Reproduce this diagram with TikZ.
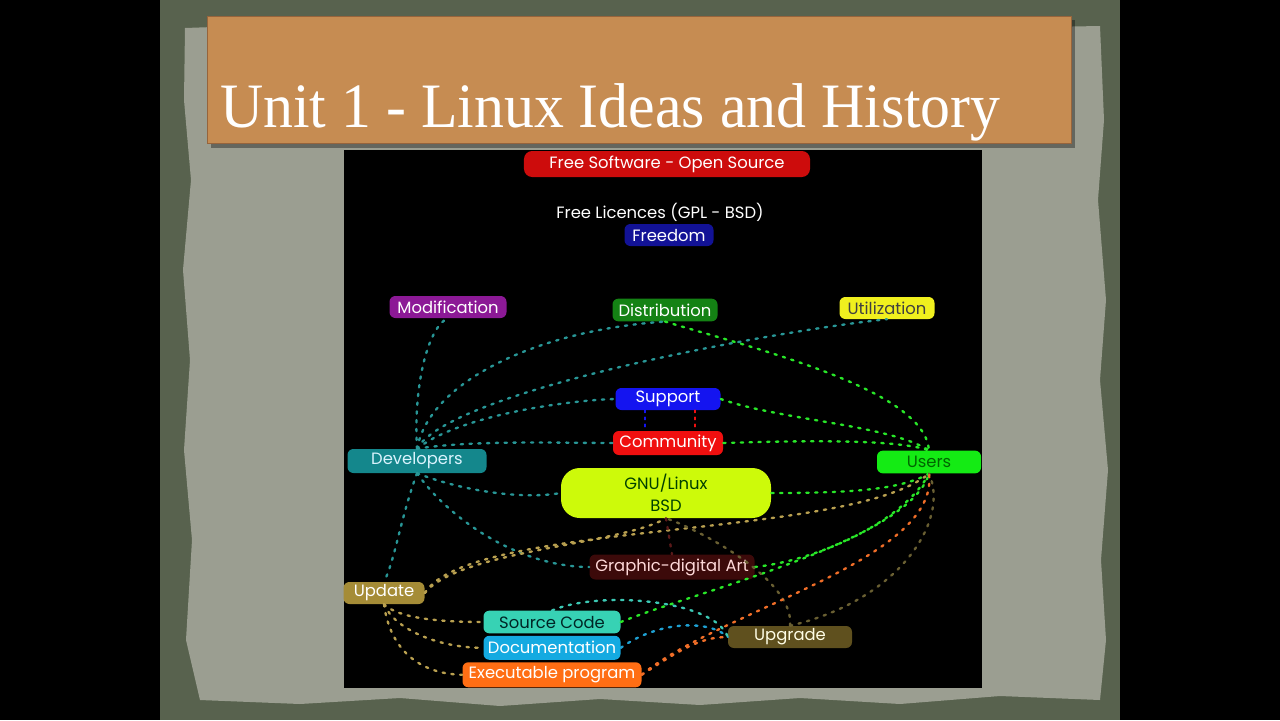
\documentclass[tikz,border=0pt]{standalone}
\usepackage{fontspec}
\setmainfont{Liberation Serif}
\newfontfamily\diafont{Poppins}
\usepackage{tikz}
\usetikzlibrary{positioning}

% slide colours
\definecolor{framegreen}{RGB}{88,98,78}
\definecolor{papergrey}{RGB}{155,158,145}
\definecolor{bannertan}{RGB}{198,140,82}
\definecolor{bannerline}{RGB}{150,100,60}
% box colours
\definecolor{cfsos}{RGB}{205,12,12}
\definecolor{cfreedom}{RGB}{18,18,150}
\definecolor{cmodif}{RGB}{140,25,150}
\definecolor{cdistr}{RGB}{20,130,20}
\definecolor{cutil}{RGB}{240,240,30}
\definecolor{csupp}{RGB}{20,20,240}
\definecolor{ccomm}{RGB}{240,15,15}
\definecolor{cdevs}{RGB}{20,135,140}
\definecolor{cusers}{RGB}{20,235,20}
\definecolor{cgnu}{RGB}{205,250,10}
\definecolor{cart}{RGB}{60,10,10}
\definecolor{cupd}{RGB}{165,140,55}
\definecolor{csrc}{RGB}{55,210,180}
\definecolor{cdoc}{RGB}{20,170,225}
\definecolor{cexe}{RGB}{255,110,20}
\definecolor{cupg}{RGB}{95,80,30}
% link colours
\definecolor{lteal}{RGB}{40,150,150}
\definecolor{lgreen}{RGB}{40,230,40}
\definecolor{ltan}{RGB}{185,160,80}
\definecolor{lolive}{RGB}{105,95,50}
\definecolor{lorange}{RGB}{240,110,40}
\definecolor{lsky}{RGB}{30,160,210}
\definecolor{lturq}{RGB}{60,200,180}
\definecolor{lmaroon}{RGB}{90,25,25}

\begin{document}
\begin{tikzpicture}[
    x=0.03cm, y=-0.03cm,
    pill/.style={rounded corners=5pt, inner sep=0pt, minimum height=0.68cm, align=center, text=white, font=\diafont\fontsize{14}{19}\selectfont},
    link/.style={line width=2pt, dash pattern=on 2pt off 5.5pt, line cap=round},
    thinlink/.style={line width=1.4pt, dash pattern=on 2pt off 4pt, line cap=round}
]
\useasboundingbox (0,0) rectangle (1280,720);

% Background
\fill[black] (0,0) rectangle (1280,720);
\fill[framegreen] (160,0) rectangle (1120,720);
\fill[papergrey] (185,28) -- (300,24) -- (420,30) -- (560,25) -- (700,29) -- (850,24) -- (990,28) -- (1100,26)
  -- (1104,120) -- (1098,200) -- (1106,300) -- (1100,380) -- (1108,470) -- (1101,560) -- (1106,640) -- (1100,700)
  -- (1000,696) -- (900,704) -- (800,698) -- (700,705) -- (600,699) -- (500,706) -- (400,698) -- (300,704) -- (200,700)
  -- (186,640) -- (192,540) -- (184,450) -- (190,360) -- (183,270) -- (191,180) -- (184,100) -- cycle;

% Banner
\fill[black, opacity=0.35] (211,20) rectangle (1075,148);
\filldraw[fill=bannertan, draw=bannerline] (207,16) rectangle (1071,143);
\node[anchor=base west, text=white, font=\fontsize{54}{54}\selectfont, inner sep=0pt] (title) at (220,127) {\scalebox{0.945}[1]{Unit 1 - Linux Ideas and History}};

% Diagram panel
\fill[black] (344,150) rectangle (982,688);

% Nodes
\node[pill, fill=cfsos, minimum width=8.58cm, minimum height=0.78cm, rounded corners=7pt] (fsos) at (667,164) {Free Software - Open Source};
\node[text=white, font=\diafont\fontsize{14}{19}\selectfont] (lic) at (660,212) {Free Licences (GPL - BSD)};
\node[pill, fill=cfreedom, minimum width=2.67cm, minimum height=0.66cm] (freedom) at (669,235) {Freedom};

\node[pill, fill=cmodif, minimum width=3.51cm, minimum height=0.66cm] (modif) at (448,307) {Modification};
\node[pill, fill=cdistr, minimum width=3.15cm] (distr) at (665,310) {Distribution};
\node[pill, fill=cutil, text=black!75, minimum width=2.85cm, minimum height=0.66cm] (util) at (887,308) {Utilization};

\node[pill, fill=csupp, minimum width=3.15cm, minimum height=0.66cm] (supp) at (668,399) {Support};
\node[pill, fill=ccomm, minimum width=3.3cm, minimum height=0.72cm] (comm) at (668,443) {Community};

\node[pill, fill=cdevs, text=white!85!cyan, minimum width=4.17cm, minimum height=0.72cm] (devs) at (417,461) {Developers};
\node[pill, fill=cusers, text=green!40!black, minimum width=3.12cm] (users) at (929,462) {Users};

\node[pill, fill=cgnu, text=black!75!green, minimum width=6.3cm, minimum height=1.5cm, rounded corners=16pt] (gnu) at (666,493) {GNU/Linux\\BSD};
\node[pill, fill=cart, text=red!15!white, minimum width=4.95cm, minimum height=0.75cm] (art) at (672,567) {Graphic-digital Art};

\node[pill, fill=cupd, minimum width=2.43cm, minimum height=0.66cm] (upd) at (384,593) {Update};
\node[pill, fill=csrc, text=black!70!teal, minimum width=4.11cm] (src) at (552,622) {Source Code};
\node[pill, fill=cdoc, minimum width=4.11cm, minimum height=0.72cm, below=0.06cm of src] (doc) {Documentation};
\node[pill, fill=cexe, minimum width=5.37cm, minimum height=0.75cm, below=0.06cm of doc] (exe) {Executable program};
\node[pill, fill=cupg, text=white!90!yellow, minimum width=3.72cm, minimum height=0.66cm] (upg) at (790,637) {Upgrade};

% Developers links
\draw[link, lteal] (devs.north) .. controls (413,380) and (430,325) .. (modif.south);
\draw[link, lteal] (devs.north) .. controls (430,380) and (540,330) .. (distr.south);
\draw[link, lteal] (devs.north) .. controls (450,390) and (780,330) .. (util.south);
\draw[link, lteal] (devs.north) .. controls (460,415) and (570,400) .. (supp.west);
\draw[link, lteal] (devs.north) .. controls (470,440) and (560,443) .. (comm.west);
\draw[link, lteal] (devs.south) .. controls (460,490) and (520,500) .. (gnu.west);
\draw[link, lteal] (devs.south) .. controls (450,520) and (520,567) .. (art.west);
\draw[link, lteal] (devs.south) .. controls (400,520) and (395,560) .. (upd.north);

% Users links
\draw[link, lgreen] (distr.south) .. controls (760,350) and (925,390) .. (users.north);
\draw[link, lgreen] (supp.east) .. controls (780,420) and (890,425) .. (users.north);
\draw[link, lgreen] (comm.east) .. controls (820,440) and (900,440) .. (users.north);
\draw[link, lgreen] (gnu.east) .. controls (850,493) and (900,490) .. (users.south);
\draw[link, lgreen] (art.east) .. controls (820,560) and (905,520) .. (users.south);
\draw[link, lgreen] (src.east) .. controls (700,590) and (910,540) .. (users.south);

% Update links
\draw[link, ltan] (upd.east) .. controls (460,550) and (620,545) .. (gnu.south);
\draw[link, ltan] (upd.east) .. controls (470,520) and (850,540) .. (users.south);
\draw[link, ltan] (upd.south) .. controls (400,620) and (450,622) .. (src.west);
\draw[link, ltan] (upd.south) .. controls (395,630) and (440,648) .. (doc.west);
\draw[link, ltan] (upd.south) .. controls (390,650) and (420,674) .. (exe.west);

% Upgrade links
\draw[link, lolive] (upg.north) .. controls (795,580) and (700,530) .. (gnu.south);
\draw[link, lolive] (upg.north) .. controls (900,600) and (950,520) .. (users.south);
\draw[link, lorange] (exe.east) .. controls (720,610) and (940,560) .. (users.south);
\draw[link, lorange] (exe.east) .. controls (680,650) and (700,637) .. (upg.west);
\draw[link, lsky] (doc.east) .. controls (660,620) and (710,620) .. (upg.west);
\draw[link, lturq] (src.north) .. controls (600,590) and (715,600) .. (upg.west);
\draw[link, lmaroon] (gnu.south) -- (art.north);

% Support - Community
\draw[thinlink, csupp] ([xshift=-0.69cm]supp.south) -- ([xshift=-0.69cm]comm.north);
\draw[thinlink, ccomm] ([xshift=0.81cm]supp.south) -- ([xshift=0.81cm]comm.north);

\end{tikzpicture}
\end{document}
